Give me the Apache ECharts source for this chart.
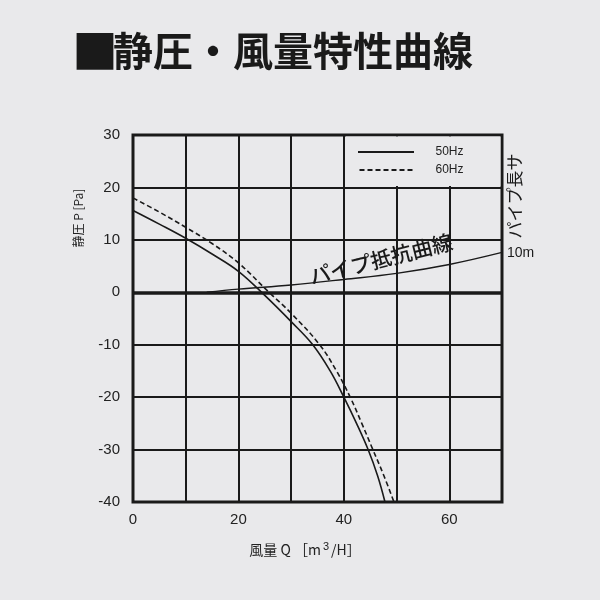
<!DOCTYPE html>
<html>
<head>
<meta charset="utf-8">
<script src="https://cdn.jsdelivr.net/npm/echarts@6/dist/echarts.min.js"></script>
<style>
html,body{margin:0;padding:0;background:#e9e9eb;}
#chart{width:600px;height:600px;}
</style>
</head>
<body>
<div id="chart"></div>
<script>
// 読み取った値 (風量 Q, 静圧 P)
var q50 = [0, 5, 10, 15, 20, 25, 30, 34.1, 37.4, 40, 42.4, 44.6, 46.4, 47.8];
var p50 = [15.6, 13.0, 10.3, 7.3, 4.0, -0.6, -5.6, -10, -15, -20, -25, -30, -35, -40];
var q60 = [0, 5, 10, 15, 20, 25.8, 30, 35.4, 38.6, 41.2, 43.4, 45.5, 47.6, 49.5];
var p60 = [18.0, 15.3, 12.4, 9.3, 5.6, 0, -4.0, -10, -15, -20, -25, -30, -35, -40];
var qPipe = [14, 20, 30, 40, 50, 60, 70];
var pPipe = [0, 0.6, 1.4, 2.45, 3.6, 5.3, 7.6];
var seriesNames = ['50Hz', '60Hz'];
var xTicks = [0, 20, 40, 60];

function pairs(xs, ys){
	var out = [];
	for(var i=0;i<xs.length;i++){
		out.push([xs[i], ys[i]]);
	}
	return out;
}

var ink = '#1a1a1a';
var bg = '#e9e9eb';
var cjk = '"Noto Sans CJK JP", sans-serif';
var num = '"Liberation Sans", Arial, sans-serif';

// 凡例アイコン (実線 / 破線)
var iconSolid = 'path://M0,0h56v2h-56z';
var iconDash = 'path://';
for(var d=0;d<56;d+=8){
	iconDash += 'M'+d+',0h5v2h-5z';
}

var chart = echarts.init(document.getElementById('chart'));
var option = {
	backgroundColor: bg,
	animation: false,
	grid: {
		left: 133, right: 98, top: 135, bottom: 98,
		show: true,
		borderColor: ink,
		borderWidth: 3
	},
	legend: {
		orient: 'vertical',
		left: 358, top: 146, padding: 0,
		itemWidth: 57, itemHeight: 2, itemGap: 6,
		data: [
			{name: seriesNames[0], icon: iconSolid},
			{name: seriesNames[1], icon: iconDash}
		],
		itemStyle: {color: ink, borderWidth: 0},
		textStyle: {fontFamily: num, fontSize: 12, color: '#222', padding: [0,0,0,16]}
	},
	xAxis: {
		type: 'value', min: 0, max: 70, interval: 10,
		axisLine: {show: false}, axisTick: {show: false},
		axisLabel: {
			fontFamily: num, fontSize: 15, color: '#222', margin: 10,
			formatter: function(v){ return xTicks.indexOf(v) >= 0 ? String(v) : ''; }
		},
		splitLine: {lineStyle: {color: ink, width: 2}}
	},
	yAxis: {
		type: 'value', min: -40, max: 30, interval: 10,
		axisLine: {show: false}, axisTick: {show: false},
		axisLabel: {fontFamily: num, fontSize: 15, color: '#222', margin: 13},
		splitLine: {lineStyle: {color: ink, width: 2}}
	},
	series: [
		{
			name: seriesNames[0], type: 'line', symbol: 'none', smooth: 0.4,
			lineStyle: {color: ink, width: 1.6},
			itemStyle: {color: ink},
			data: pairs(q50, p50),
			z: 5
		},
		{
			name: seriesNames[1], type: 'line', symbol: 'none', smooth: 0.4,
			lineStyle: {color: ink, width: 1.6, type: [5, 3]},
			itemStyle: {color: ink},
			data: pairs(q60, p60),
			z: 5
		},
		{
			name: 'パイプ抵抗曲線', type: 'line', symbol: 'none', smooth: 0.4,
			lineStyle: {color: ink, width: 1.4},
			data: pairs(qPipe, pPipe),
			z: 4,
			markLine: {
				silent: true, symbol: 'none', label: {show: false},
				lineStyle: {color: ink, width: 3.5, type: 'solid'},
				data: [{yAxis: 0}]
			},
			markArea: {
				silent: true,
				itemStyle: {color: bg, opacity: 1},
				data: [[{xAxis: 40.4, yAxis: 20.25}, {xAxis: 69.7, yAxis: 29.7}]]
			}
		}
	],
	graphic: [
		{
			type: 'text', left: 72, top: 28,
			style: {
				text: '{sq|■}静圧・風量特性曲線', font: 'bold 40px ' + cjk, fill: '#1a1a1a',
				rich: {sq: {fontSize: 46, fontFamily: cjk, fontWeight: 'bold', padding: [0,-5,0,0]}}
			}
		},
		{
			type: 'text', x: 78, y: 218, rotation: Math.PI/2,
			style: {text: '静圧 P [Pa]', font: '12px ' + cjk, fill: '#222', align: 'center', verticalAlign: 'middle'}
		},
		{
			type: 'text', x: 305, y: 550,
			style: {
				text: '風量 Q ［m{s|3}/H］', align: 'center', verticalAlign: 'middle',
				font: '14px ' + cjk, fill: '#222',
				rich: {s: {fontSize: 11, fontFamily: num, verticalAlign: 'top', padding: [0,2,6,2]}}
			}
		},
		{
			type: 'text', x: 381, y: 259, rotation: 0.245,
			style: {text: 'パイプ抵抗曲線', font: '500 21px ' + cjk, fill: '#1a1a1a', align: 'center', verticalAlign: 'middle'}
		},
		{
			type: 'text', x: 515, y: 196, rotation: Math.PI/2,
			style: {text: 'パイプ長サ', font: '17px ' + cjk, fill: '#1a1a1a', align: 'center', verticalAlign: 'middle'}
		},
		{
			type: 'text', x: 507, y: 253,
			style: {text: '10m', font: '14px ' + num, fill: '#1a1a1a', align: 'left', verticalAlign: 'middle'}
		}
	]
};
chart.setOption(option);
window.addEventListener('resize', function(){
	chart.resize();
});
</script>
</body>
</html>
